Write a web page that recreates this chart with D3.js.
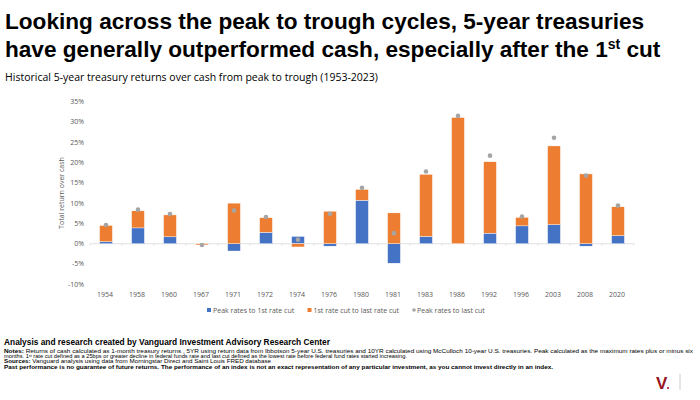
<!DOCTYPE html>
<html>
<head>
<meta charset="utf-8">
<script src="https://cdn.jsdelivr.net/npm/d3@7"></script>
<style>
  body { margin: 0; background: #fff; }
  svg { display: block; }
</style>
</head>
<body>
<div id="chart"></div>
<script>
// data (percent)
var years = ["1954","1958","1960","1967","1971","1972","1974","1976","1980","1981","1983","1986","1992","1996","2003","2008","2020"];
var peakToFirst = [0.5, 3.9, 1.7, 0, -1.8, 2.8, 1.8, -0.6, 10.7, -4.8, 1.8, 0, 2.6, 4.4, 4.7, -0.6, 2.0];
var firstToLast = [4.0, 4.2, 5.4, -0.3, 10.0, 3.6, -0.8, 8.0, 2.7, 7.6, 15.3, 31.1, 17.6, 2.1, 19.4, 17.2, 7.1];
var peakToLast = [4.6, 8.4, 7.3, -0.3, 8.2, 6.6, 1.0, 7.4, 13.8, 2.6, 17.8, 31.5, 21.7, 6.7, 26.1, 16.8, 9.4];
var yTicks = [-10, -5, 0, 5, 10, 15, 20, 25, 30, 35];
var seriesNames = ["Peak rates to 1st rate cut", "1st rate cut to last rate cut", "Peak rates to last cut"];

var width = 700, height = 400;
var colors = { blue: "#4472C4", orange: "#ED7D31", gray: "#A5A5A5" };
var chartFont = "'Open Sans', sans-serif";
var headFont = "'Liberation Sans', Arial, sans-serif";

var svg = d3.select("#chart").append("svg")
  .attr("width", width)
  .attr("height", height);

// title
var title = svg.append("text")
  .attr("font-family", headFont)
  .attr("font-weight", "bold")
  .attr("font-size", 22.6)
  .attr("fill", "#000");
title.append("tspan").attr("x", 5).attr("y", 29)
  .text("Looking across the peak to trough cycles, 5-year treasuries");
title.append("tspan").attr("x", 5).attr("y", 57)
  .text("have generally outperformed cash, especially after the 1");
title.append("tspan").attr("dy", -8.5).attr("font-size", 14).text("st");
title.append("tspan").attr("dy", 8.5).text(" cut");

svg.append("text")
  .attr("x", 5).attr("y", 81)
  .attr("font-family", chartFont)
  .attr("font-size", 10.5)
  .attr("fill", "#000")
  .text("Historical 5-year treasury returns over cash from peak to trough (1953-2023)");

// scales
var x = d3.scaleBand().domain(years).range([90, 634]).paddingInner(0.6).paddingOuter(0.3);
var y = d3.scaleLinear().domain([-10, 35]).range([284.3, 101.7]);

// stacked data, positive and negative stacked apart like the source
var rows = years.map(function (yr, i) {
  return { year: yr, a: peakToFirst[i], b: firstToLast[i] };
});
var stacked = d3.stack().keys(["a", "b"]).offset(d3.stackOffsetDiverging)(rows);

// y axis labels
svg.append("g").selectAll("text")
  .data(yTicks)
  .enter().append("text")
  .attr("x", 84)
  .attr("y", function (d) { return y(d); })
  .attr("dy", ".35em")
  .attr("text-anchor", "end")
  .attr("font-family", chartFont)
  .attr("font-size", 7)
  .attr("fill", "#595959")
  .text(function (d) { return d + "%"; });

svg.append("text")
  .attr("transform", "translate(64," + y(12.5) + ") rotate(-90)")
  .attr("text-anchor", "middle")
  .attr("font-family", chartFont)
  .attr("font-size", 7)
  .attr("fill", "#595959")
  .text("Total return over cash");

// zero line with small ticks at band edges
var zero = svg.append("g");
zero.append("line")
  .attr("x1", 90).attr("x2", 634)
  .attr("y1", y(0)).attr("y2", y(0))
  .attr("stroke", "#D9D9D9").attr("stroke-width", 0.8);
zero.selectAll("line.tk")
  .data(d3.range(years.length + 1))
  .enter().append("line")
  .attr("class", "tk")
  .attr("x1", function (i) { return 90 + i * x.step(); })
  .attr("x2", function (i) { return 90 + i * x.step(); })
  .attr("y1", y(0)).attr("y2", y(0) + 2)
  .attr("stroke", "#D9D9D9").attr("stroke-width", 0.8);

// bars
var barColors = [colors.blue, colors.orange];
svg.append("g").selectAll("g")
  .data(stacked)
  .enter().append("g")
  .attr("fill", function (d, i) { return barColors[i]; })
  .selectAll("rect")
  .data(function (d) { return d; })
  .enter().append("rect")
  .attr("x", function (d) { return x(d.data.year); })
  .attr("width", x.bandwidth())
  .attr("y", function (d) { return y(Math.max(d[0], d[1])); })
  .attr("height", function (d) { return Math.abs(y(d[0]) - y(d[1])); })
  .attr("stroke", "#fff")
  .attr("stroke-width", 0.4);

// dots
svg.append("g").selectAll("circle")
  .data(peakToLast)
  .enter().append("circle")
  .attr("cx", function (d, i) { return x(years[i]) + x.bandwidth() / 2; })
  .attr("cy", function (d) { return y(d); })
  .attr("r", 2.3)
  .attr("fill", colors.gray);

// x labels
svg.append("g").selectAll("text")
  .data(years)
  .enter().append("text")
  .attr("x", function (d) { return x(d) + x.bandwidth() / 2 - 1; })
  .attr("y", 294.5)
  .attr("dy", ".35em")
  .attr("text-anchor", "middle")
  .attr("font-family", chartFont)
  .attr("font-size", 7)
  .attr("fill", "#595959")
  .text(function (d) { return d; });

// legend
var legendX = [207, 307.5, 414];
var legend = svg.append("g").selectAll("g")
  .data(seriesNames)
  .enter().append("g")
  .attr("transform", function (d, i) { return "translate(" + legendX[i] + ",310.5)"; });
legend.each(function (d, i) {
  var g = d3.select(this);
  if (i < 2) {
    g.append("rect").attr("x", 0).attr("y", -2.5).attr("width", 4).attr("height", 4)
      .attr("fill", barColors[i]);
  } else {
    g.append("circle").attr("cx", 0).attr("cy", -0.5).attr("r", 1.8).attr("fill", colors.gray);
  }
  g.append("text")
    .attr("x", i < 2 ? 6 : 3)
    .attr("dy", ".3em")
    .attr("font-family", chartFont)
    .attr("font-size", 7)
    .attr("fill", "#595959")
    .text(d);
});

// footer
var foot = svg.append("g").attr("font-family", headFont).attr("fill", "#000");
foot.append("text").attr("x", 4).attr("y", 345)
  .attr("font-weight", "bold").attr("font-size", 8.3)
  .attr("textLength", 326).attr("lengthAdjust", "spacingAndGlyphs")
  .text("Analysis and research created by Vanguard Investment Advisory Research Center");

var notes = foot.append("text").attr("x", 4).attr("y", 353).attr("font-size", 5.4)
  .attr("textLength", 689).attr("lengthAdjust", "spacingAndGlyphs");
notes.append("tspan").attr("font-weight", "bold").text("Notes: ");
notes.append("tspan").text("Returns of cash calculated as 1-month treasury returns , 5YR using return data from Ibbotson 5-year U.S. treasuries and 10YR calculated using McCulloch 10-year U.S. treasuries. Peak calculated as the maximum rates plus or minus six");

var months = foot.append("text").attr("x", 4).attr("y", 358).attr("font-size", 5.4)
  .attr("textLength", 403).attr("lengthAdjust", "spacingAndGlyphs");
months.append("tspan").text("months. 1");
months.append("tspan").attr("dy", -1.5).attr("font-size", 3.5).text("st");
months.append("tspan").attr("dy", 1.5).text(" rate cut defined as a 25bps or greater decline in federal funds rate and last cut defined as the lowest rate before federal fund rates started increasing.");

var sources = foot.append("text").attr("x", 4).attr("y", 363).attr("font-size", 5.4)
  .attr("textLength", 267).attr("lengthAdjust", "spacingAndGlyphs");
sources.append("tspan").attr("font-weight", "bold").text("Sources: ");
sources.append("tspan").text("Vanguard analysis using data from Morningstar Direct and Saint Louis FRED database");

foot.append("text").attr("x", 4).attr("y", 369).attr("font-size", 5.6)
  .attr("font-weight", "bold")
  .attr("textLength", 549).attr("lengthAdjust", "spacingAndGlyphs")
  .text("Past performance is no guarantee of future returns. The performance of an index is not an exact representation of any particular investment, as you cannot invest directly in an index.");

// logo
svg.append("text").attr("x", 656).attr("y", 389)
  .attr("font-family", headFont).attr("font-weight", "bold").attr("font-size", 17)
  .attr("fill", "#96151D").text("V");
svg.append("circle").attr("cx", 668).attr("cy", 388).attr("r", 1).attr("fill", "#96151D");
svg.append("line").attr("x1", 680).attr("x2", 680).attr("y1", 374).attr("y2", 390)
  .attr("stroke", "#BFBFBF").attr("stroke-width", 0.8);
</script>
</body>
</html>
